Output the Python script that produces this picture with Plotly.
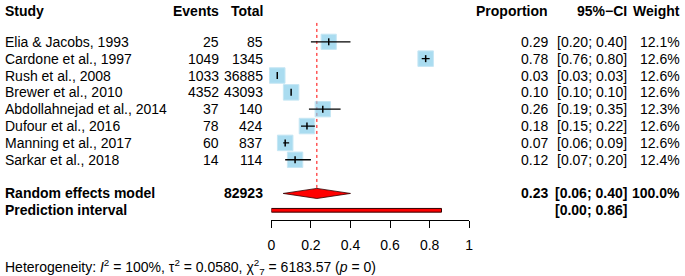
import plotly.graph_objects as go
import math

# ---------------- data ----------------
studies = ["Elia & Jacobs, 1993", "Cardone et al., 1997", "Rush et al., 2008",
           "Brewer et al., 2010", "Abdollahnejad et al., 2014", "Dufour et al., 2016",
           "Manning et al., 2017", "Sarkar et al., 2018"]
events = [25, 1049, 1033, 4352, 37, 78, 60, 14]
totals = [85, 1345, 36885, 43093, 140, 424, 837, 114]
props = [0.29, 0.78, 0.03, 0.10, 0.26, 0.18, 0.07, 0.12]
ci_lo = [0.20, 0.76, 0.03, 0.10, 0.19, 0.15, 0.06, 0.07]
ci_hi = [0.40, 0.80, 0.03, 0.10, 0.35, 0.22, 0.09, 0.20]
weights = [12.1, 12.6, 12.6, 12.6, 12.3, 12.6, 12.6, 12.4]

pooled_total = 82923
pooled_est = 0.23
pooled_lo = 0.06
pooled_hi = 0.40
pooled_weight = 100.0
pred_lo = 0.00
pred_hi = 0.86

x_ticks = [0, 0.2, 0.4, 0.6, 0.8, 1]
headers = ["Study", "Events", "Total", "Proportion", "95%\u2212CI", "Weight"]
hetero = ("Heterogeneity: <i>I</i><sup>2</sup> = 100%, \u03c4<sup>2</sup> = 0.0580, "
          "\u03c7<sup>2</sup><sub>7</sub> = 6183.57 (<i>p</i> = 0)")

# ---------------- layout helpers ----------------
W, H = 685, 276
FONT = "Liberation Sans, Arial, Helvetica, sans-serif"
FS = 14

rows = list(range(1, len(studies) + 1))
row_random = len(studies) + 2
row_pred = row_random + 1
row_header = -0.83

px_row1 = 41.8
px_step = 16.85
axis_px = 219.5
y_top = 1 - px_row1 / px_step
y_bot = 1 + (axis_px - px_row1) / px_step

fig = go.Figure()

# reference line (pooled estimate)
fig.add_trace(go.Scatter(x=[pooled_est, pooled_est], y=[-0.12, row_random + 0.2],
                         mode="lines", line=dict(color="red", dash="dot", width=1),
                         hoverinfo="skip", cliponaxis=False))

# squares
sizes = [15.5 * math.sqrt(w / max(weights)) for w in weights]
fig.add_trace(go.Scatter(x=props, y=rows, mode="markers",
                         marker=dict(symbol="square", size=sizes, color="#87CEEB",
                                     line=dict(color="#AEDDF0", width=1)),
                         cliponaxis=False, hoverinfo="skip"))

# CI lines
cx, cy = [], []
for lo, hi, r in zip(ci_lo, ci_hi, rows):
    cx += [lo, hi, None]
    cy += [r, r, None]
fig.add_trace(go.Scatter(x=cx, y=cy, mode="lines", line=dict(color="black", width=1.3),
                         cliponaxis=False, hoverinfo="skip"))
fig.add_trace(go.Scatter(x=props, y=rows, mode="markers",
                         marker=dict(symbol="line-ns", size=5,
                                     line=dict(color="black", width=1.5)),
                         cliponaxis=False, hoverinfo="skip"))

# diamond
dh = 0.3
fig.add_trace(go.Scatter(x=[pooled_lo, pooled_est, pooled_hi, pooled_est, pooled_lo],
                         y=[row_random, row_random - dh, row_random, row_random + dh, row_random],
                         mode="lines", fill="toself", fillcolor="red",
                         line=dict(color="#330000", width=0.8),
                         cliponaxis=False, hoverinfo="skip"))

# prediction interval
ph = 0.11
fig.add_trace(go.Scatter(x=[pred_lo, pred_hi, pred_hi, pred_lo, pred_lo],
                         y=[row_pred - ph, row_pred - ph, row_pred + ph, row_pred + ph, row_pred - ph],
                         mode="lines", fill="toself", fillcolor="red",
                         line=dict(color="#330000", width=1),
                         cliponaxis=False, hoverinfo="skip"))

ann = []


def txt(x, y, s, anchor="right", bold=False, yref="y"):
    if bold:
        s = "<b>" + s + "</b>"
    ann.append(dict(x=x / W, y=y, xref="paper", yref=yref, text=s, showarrow=False,
                    xanchor=anchor, yanchor="middle", borderpad=0, borderwidth=0,
                    font=dict(family=FONT, size=FS, color="black")))


col_study = 1.5
col_events = 218
col_total = 262.5
col_prop = 550
col_ci = 630
col_weight = 684

# header
hx = [col_study, col_events, col_total, col_prop, col_ci, col_weight]
for i, (h, x) in enumerate(zip(headers, hx)):
    txt(x, row_header, h, anchor="left" if i == 0 else "right", bold=True)

for s, e, t, p, lo, hi, w, r in zip(studies, events, totals, props, ci_lo, ci_hi, weights, rows):
    txt(col_study, r, s, anchor="left")
    txt(col_events, r, str(e))
    txt(col_total, r, str(t))
    txt(col_prop, r, f"{p:.2f}")
    txt(col_ci, r, f"[{lo:.2f}; {hi:.2f}]")
    txt(col_weight, r, f"{w:.1f}%")

txt(col_study, row_random, "Random effects model", anchor="left", bold=True)
txt(col_total, row_random, str(pooled_total), bold=True)
txt(col_prop, row_random, f"{pooled_est:.2f}", bold=True)
txt(col_ci, row_random, f"[{pooled_lo:.2f}; {pooled_hi:.2f}]", bold=True)
txt(col_weight, row_random, f"{pooled_weight:.1f}%", bold=True)
txt(col_study, row_pred, "Prediction interval", anchor="left", bold=True)
txt(col_ci, row_pred, f"[{pred_lo:.2f}; {pred_hi:.2f}]", bold=True)

txt(col_study, (H - 267) / H, hetero, anchor="left", yref="paper")

x0_px, x1_px = 270.5, 470.7
fig.update_layout(
    width=W, height=H, margin=dict(l=0, r=0, t=0, b=0),
    paper_bgcolor="white", plot_bgcolor="white", showlegend=False,
    annotations=ann,
    xaxis=dict(domain=[x0_px / W, x1_px / W], range=[0, 1], showgrid=False, zeroline=False,
               showline=True, linecolor="black", linewidth=1,
               ticks="outside", ticklen=7, tickcolor="black", tickwidth=1,
               tickvals=x_ticks, ticktext=[f"{v:g}" for v in x_ticks],
               tickfont=dict(family=FONT, size=FS, color="black"),
               ticklabelstandoff=6, fixedrange=True),
    yaxis=dict(domain=[(H - axis_px) / H, 1], range=[y_bot, y_top], visible=False,
               showgrid=False, zeroline=False, fixedrange=True),
)

fig.write_html("out.html", config={"displayModeBar": False},
               post_script="document.body.style.margin='0';document.body.style.padding='0';document.body.style.overflow='hidden';")
